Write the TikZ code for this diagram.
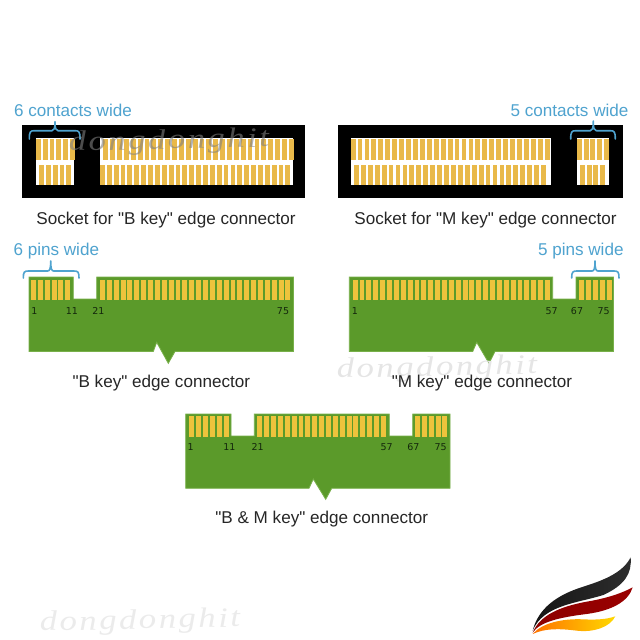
\documentclass[tikz,border=0pt]{standalone}
\usepackage{fontspec}
\newfontfamily\capfont{Liberation Sans}
\newfontfamily\pinfont{DejaVu Sans}
\newfontfamily\wmfont{Liberation Serif}
\usetikzlibrary{calc}
\definecolor{cblue}{HTML}{4FA3CF}
\definecolor{cgold}{HTML}{E9B949}
\definecolor{cpin}{HTML}{EEC33C}
\definecolor{cgreen}{HTML}{5B9A2A}
\definecolor{cedge}{HTML}{78B04A}
\definecolor{cpintext}{HTML}{14280C}
\definecolor{ctext}{HTML}{262626}
\tikzset{
  captiontext/.style={font=\capfont\fontsize{17.1}{19}\selectfont,text=ctext,inner sep=0pt,anchor=center,yshift=-1pt},
  bluetext/.style={font=\capfont\fontsize{17.1}{19}\selectfont,text=cblue,inner sep=0pt,anchor=center},
  pintext/.style={font=\pinfont\fontsize{9.5}{10}\selectfont,text=cpintext,inner sep=0pt,anchor=center},
  bracepath/.style={draw=cblue,line width=1.6pt,line cap=round,line join=round},
  board/.style={fill=cgreen,draw=cedge,line width=0.8pt,line join=miter},
  watermark/.style={font=\wmfont\itshape\fontsize{28}{30}\selectfont,inner sep=0pt,anchor=center,xscale=1.24,rotate=1.5}
}
\newcommand{\wmword}{d\kern2pt o\kern2pt n\kern2pt g\kern2pt d\kern2pt o\kern2pt n\kern2pt g\kern2pt h\kern2pt i\kern2pt t}
% #1 x0, #2 count, #3 period, #4 y top, #5 y bottom, #6 width, #7 colour
\newcommand{\stripeset}[7]{%
  \pgfmathtruncatemacro{\laststripe}{#2-1}%
  \foreach \stripei in {0,...,\laststripe}{%
    \fill[#7] ({#1+\stripei*#3},#4) rectangle ({#1+\stripei*#3+#6},#5);
  }%
}
% #1 left x, #2 right x, #3 tip x, #4 low y, #5 mid y, #6 tip y
\newcommand{\bracket}[6]{%
  \draw[bracepath] (#1,#4) .. controls (#1,#5+1) and (#1+1,#5) .. (#1+5,#5)
    -- (#3-3,#5) .. controls (#3-1,#5) and (#3,#5-2) .. (#3,#6)
    .. controls (#3,#5-2) and (#3+1,#5) .. (#3+3,#5)
    -- (#2-5,#5) .. controls (#2-1,#5) and (#2,#5+1) .. (#2,#4);
}
\begin{document}
\begin{tikzpicture}[x=1pt,y=-1pt]
\useasboundingbox (0,0) rectangle (640,640);
\fill[white] (0,0) rectangle (640,640);

% ---------- Socket B
\fill[black] (22,125) rectangle (305,198);
\fill[white] (36,138) rectangle (74,185);
\fill[white] (100,138) rectangle (293,185);
\stripeset{36}{6}{6.75}{139}{159.5}{4.8}{cgold}
\stripeset{39.3}{5}{6.75}{165}{185}{4.8}{cgold}
\stripeset{103.4}{28}{6.87}{139}{159.5}{4.8}{cgold}
\stripeset{100}{28}{6.87}{165}{185}{4.8}{cgold}
\bracket{29.3}{80}{55}{139}{130.7}{121.7}

% ---------- Socket M
\fill[black] (338,125) rectangle (622.7,198);
\fill[white] (350.7,138) rectangle (550.7,185);
\fill[white] (576.7,138) rectangle (608.5,185);
\stripeset{350.7}{29}{6.93}{139}{159.5}{4.8}{cgold}
\stripeset{354}{28}{6.93}{165}{185}{4.8}{cgold}
\stripeset{577}{5}{6.7}{139}{159.5}{4.8}{cgold}
\stripeset{580}{4}{6.7}{165}{185}{4.8}{cgold}
\bracket{570.7}{615.3}{593.3}{139}{130.7}{121}

% ---------- B key board
\path[board] (29,277) -- (73.3,277) -- (73.3,299) -- (96.7,299) -- (96.7,277)
  -- (293.5,277) -- (293.5,351.5) -- (175,351.5) -- (168.3,363.3)
  -- (156.7,342.3) -- (153.3,351.5) -- (29,351.5) -- cycle;
\stripeset{31}{6}{6.87}{279.5}{300}{4.9}{cpin}
\stripeset{100}{28}{6.87}{279.5}{300}{4.9}{cpin}
\bracket{23.3}{79}{50.7}{278}{271}{261}
\node[pintext] (ba) at (34.5,311) {1};
\node[pintext] (bb) at (72,311) {11};
\node[pintext] (bc) at (98.5,311) {21};
\node[pintext] (bd) at (283,311) {75};

% ---------- M key board
\path[board] (349.3,277) -- (552.7,277) -- (552.7,299) -- (576,299) -- (576,277)
  -- (613.5,277) -- (613.5,351.5) -- (495,351.5) -- (489,363.3)
  -- (476.7,342.3) -- (472.7,351.5) -- (349.3,351.5) -- cycle;
\stripeset{352.7}{29}{6.87}{279.5}{300}{4.9}{cpin}
\stripeset{579.3}{5}{6.87}{279.5}{300}{4.9}{cpin}
\bracket{571.7}{619}{595}{278}{271}{261}
\node[pintext] (ma) at (355,311) {1};
\node[pintext] (mb) at (551.7,311) {57};
\node[pintext] (mc) at (577,311) {67};
\node[pintext] (md) at (603.7,311) {75};

% ---------- B & M key board
\path[board] (185.7,414) -- (231,414) -- (231,436) -- (254.3,436) -- (254.3,414)
  -- (389.3,414) -- (389.3,436) -- (412.7,436) -- (412.7,414)
  -- (450,414) -- (450,488.3) -- (331.7,488.3) -- (325.7,499.3)
  -- (313.3,479) -- (309,488.3) -- (185.7,488.3) -- cycle;
\stripeset{189.3}{6}{6.87}{416.3}{436.8}{4.9}{cpin}
\stripeset{257.3}{19}{6.87}{416.3}{436.8}{4.9}{cpin}
\stripeset{415}{5}{6.87}{416.3}{436.8}{4.9}{cpin}
\node[pintext] (da) at (190.7,447.3) {1};
\node[pintext] (db) at (229.3,447.3) {11};
\node[pintext] (dc) at (257.7,447.3) {21};
\node[pintext] (dd) at (386.7,447.3) {57};
\node[pintext] (de) at (413.3,447.3) {67};
\node[pintext] (df) at (440.7,447.3) {75};

% ---------- watermarks
\node[watermark,text=black!50,opacity=.6] (wa) at (169,142) {\wmword};
\node[watermark,text=black!10] (wb) at (437,369) {\wmword};
\node[watermark,text=black!8] (wc) at (140,622) {\wmword};

% ---------- captions
\node[captiontext] (capa) at (166,219) {Socket for "B key" edge connector};
\node[captiontext] (capb) at (485.5,219) {Socket for "M key" edge connector};
\node[captiontext] (capc) at (161.3,382) {"B key" edge connector};
\node[captiontext] (capd) at (482,382) {"M key" edge connector};
\node[captiontext] (cape) at (321.7,518) {"B \& M key" edge connector};
\node[bluetext] (bla) at (73,110.7) {6 contacts wide};
\node[bluetext] (blb) at (569.5,110.7) {5 contacts wide};
\node[bluetext] (blc) at (56.3,251.2) {6 pins wide};
\node[bluetext] (bld) at (580.8,251.2) {5 pins wide};

% ---------- flag logo
\begin{scope}[shift={(500,540)},x=0.3333pt,y=-0.3333pt]
  \path[left color=black!92,right color=black!82]
    (98,272) .. controls (115,205) and (170,165) .. (250,140)
    .. controls (320,118) and (370,95) .. (392,52)
    .. controls (396,100) and (375,135) .. (310,165)
    .. controls (230,190) and (130,195) .. (98,272) -- cycle;
  \path[left color=red!55!black,right color=red!60!black]
    (98,278) .. controls (120,225) and (180,200) .. (260,185)
    .. controls (320,175) and (365,160) .. (398,142)
    .. controls (385,185) and (335,212) .. (260,222)
    .. controls (180,232) and (120,245) .. (98,278) -- cycle;
  \path[left color=orange!90!red,right color=yellow!70!orange]
    (98,282) .. controls (125,250) and (185,235) .. (250,238)
    .. controls (290,240) and (320,238) .. (346,229)
    .. controls (330,262) and (280,278) .. (230,272)
    .. controls (175,265) and (135,265) .. (98,282) -- cycle;
\end{scope}
\end{tikzpicture}
\end{document}
